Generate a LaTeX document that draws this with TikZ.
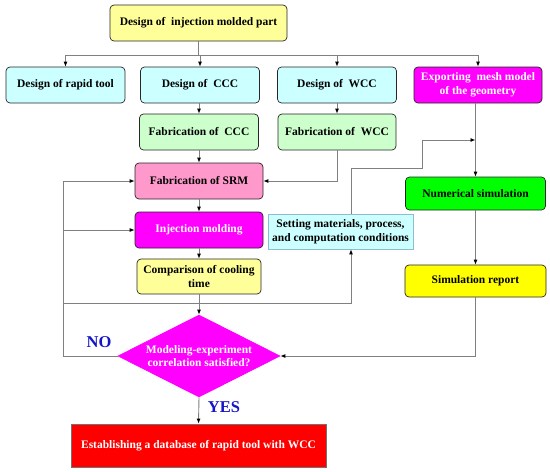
\documentclass[tikz,border=0pt]{standalone}
\usepackage{fontspec}
\setmainfont{Liberation Serif}
\usetikzlibrary{arrows.meta,shapes.geometric}
\definecolor{lyellow}{HTML}{FFFF99}
\definecolor{lcyan}{HTML}{CCFFFF}
\definecolor{lgreen}{HTML}{CCFFCC}
\definecolor{pinkc}{HTML}{FF99CC}
\definecolor{magc}{HTML}{FF00FF}
\definecolor{greenc}{HTML}{00FF00}
\definecolor{yellowc}{HTML}{FFFF00}
\definecolor{redc}{HTML}{FF0000}
\definecolor{labblue}{HTML}{1414C8}
\definecolor{setborder}{HTML}{8FBCCF}
\begin{document}
\begin{tikzpicture}[x=1pt,y=-1pt,
  box/.style={draw=black!85, line width=0.7pt, rounded corners=4pt, align=center, inner sep=1pt,
    font=\bfseries\fontsize{11.5}{13.5}\selectfont},
  conn/.style={draw=black!50, line width=0.9pt},
  arr/.style={conn, -{Latex[length=5pt,width=4pt,color=black]}},
  lab/.style={text=labblue, font=\bfseries\fontsize{16.5}{18}\selectfont, inner sep=0pt}]
\useasboundingbox (0,0) rectangle (550,472);
% nodes
\node[box, fill=lyellow, minimum width=177, minimum height=36] (top) at (198.5,23) {Design of~ injection molded part};
\node[box, fill=lcyan, minimum width=119, minimum height=36] (rapid) at (65.5,85) {Design of rapid tool};
\node[box, fill=lcyan, minimum width=119, minimum height=36] (dccc) at (200,85) {Design of~ CCC};
\node[box, fill=lcyan, minimum width=119, minimum height=36] (dwcc) at (337,85) {Design of~ WCC};
\node[box, fill=magc, text=white, minimum width=128, minimum height=36] (export) at (478,85) {Exporting~ mesh model\\of the geometry};
\node[box, fill=lgreen, minimum width=119, minimum height=36] (fccc) at (199,132) {Fabrication of~ CCC};
\node[box, fill=lgreen, minimum width=118, minimum height=36] (fwcc) at (337,132) {Fabrication of~ WCC};
\node[box, fill=pinkc, minimum width=128, minimum height=36] (srm) at (199,181) {Fabrication of SRM};
\node[box, fill=magc, text=white, minimum width=128, minimum height=36] (inj) at (199,230) {Injection molding};
\node[box, fill=lyellow, minimum width=124, minimum height=35] (comp) at (199,276.5) {Comparison of cooling\\time};
\node[box, draw=setborder, rounded corners=0pt, fill=lcyan, minimum width=145, minimum height=35] (setting) at (340.5,231.5) {Setting materials, process,\\and computation conditions};
\node[box, fill=greenc, minimum width=140, minimum height=33] (numsim) at (475.5,193.5) {Numerical simulation};
\node[box, fill=yellowc, minimum width=141, minimum height=32] (simrep) at (475.5,281) {Simulation report};
\node[box, diamond, rounded corners=0pt, draw=magc, fill=magc, text=white, aspect=1.98, inner sep=0pt,
  minimum width=162, minimum height=82] (dia) at (199,356) {Modeling-experiment\\correlation satisfied?};
\node[box, rounded corners=0pt, draw=black!55, fill=redc, text=white, minimum width=255, minimum height=43] (final) at (198.5,445.5) {Establishing a database of rapid tool with WCC};
\node[lab] (no) at (99,342) {NO};
\node[lab] (yes) at (224,407) {YES};
% coordinates
\coordinate (bus) at (0,55);
\coordinate (L) at (63,0);
\coordinate (b303) at (0,303);
\coordinate (sx) at (351,0);
\coordinate (s1) at (351,168);
\coordinate (s2) at (422,168);
\coordinate (s3) at (422,140);
\coordinate (j1) at (475.5,140);
% connectors
\draw[conn] (top.south) -- (top.south |- bus);
\draw[conn] (bus -| rapid) -- (bus -| export);
\draw[arr] (bus -| rapid) -- (rapid.north);
\draw[arr] (bus -| dccc) -- (dccc.north);
\draw[arr] (bus -| dwcc) -- (dwcc.north);
\draw[arr] (bus -| export) -- (export.north);
\draw[arr] (dccc.south -| fccc) -- (fccc.north);
\draw[arr] (dwcc.south -| fwcc) -- (fwcc.north);
\draw[arr] (fccc.south) -- (srm.north);
\draw[arr] (fwcc.south) -- (fwcc.south |- srm.east) -- (srm.east);
\draw[arr] (srm.south) -- (inj.north);
\draw[arr] (inj.south) -- (comp.north);
\draw[arr] (comp.south) -- (dia.north);
\draw[conn] (dia.west) -- (dia.west -| L) -- (srm.west -| L);
\draw[arr] (srm.west -| L) -- (srm.west);
\draw[arr] (inj.west -| L) -- (inj.west);
\draw[arr] (L |- b303) -- (sx |- b303) -- (sx |- setting.south);
\draw[arr] (s1 |- setting.north) -- (s1) -- (s2) -- (s3) -- (j1);
\draw[arr] (numsim.north |- export.south) -- (numsim.north);
\draw[arr] (numsim.south) -- (simrep.north);
\draw[arr] (simrep.south) -- (simrep.south |- dia.east) -- (dia.east);
\draw[arr] (dia.south) -- (final.north);
\end{tikzpicture}
\end{document}
